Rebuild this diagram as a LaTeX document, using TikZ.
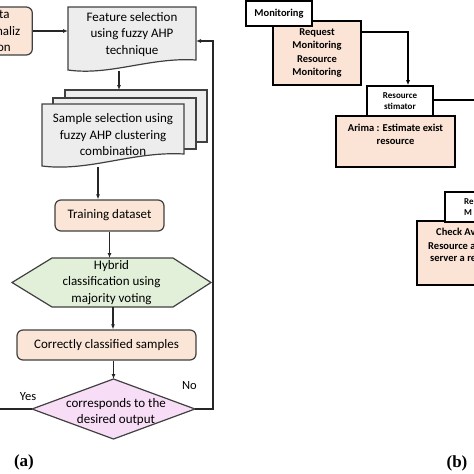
\documentclass[tikz,border=0pt]{standalone}
\usepackage{fontspec}
\setmainfont{Carlito}
\newfontfamily\serifb{Liberation Serif}
\usetikzlibrary{arrows.meta,calc}
\definecolor{peachL}{HTML}{FBE5D6}
\definecolor{peachR}{HTML}{FBE4D5}
\definecolor{grayD}{HTML}{EDEDED}
\definecolor{greenH}{HTML}{E2F0D9}
\definecolor{pinkD}{HTML}{F8DDF6}
\begin{document}
\begin{tikzpicture}[x=1pt,y=-1pt,
  arr/.style={-{Latex[length=5pt,width=4pt]}, line width=1.1pt, draw=black!85},
  ln/.style={line width=1.1pt, draw=black!85},
  arrR/.style={-{Latex[length=5pt,width=4pt]}, line width=1.4pt, draw=black},
  lnR/.style={line width=1.4pt, draw=black},
  lbox/.style={draw=black!75, line width=1.2pt},
  rbox/.style={draw=black, line width=1.6pt},
  txt/.style={inner sep=0pt, align=center, font=\fontsize{13}{16.5}\selectfont},
  rtxt/.style={inner sep=0pt, align=center, font=\bfseries\fontsize{10.5}{13.4}\selectfont},
  stxt/.style={inner sep=0pt, align=center, font=\bfseries\fontsize{9}{10.5}\selectfont},
  hole/.style={inner sep=0pt, outer sep=0pt},
  lbl/.style={inner sep=0pt, font=\fontsize{12.5}{12.5}\selectfont},
  capt/.style={inner sep=0pt, font=\serifb\bfseries\fontsize{17}{17}\selectfont}
]
\useasboundingbox (0,0) rectangle (474,474);

% ---------- (a) ----------
\node[lbox, fill=peachL, rounded corners=6pt, minimum width=70, minimum height=48, txt] (dn) at (-2.7,31) {Data\\normaliz\\ation};

\draw[lbox, fill=grayD] (68,7) -- (196,7) -- (196,60) .. controls (150,57) and (110,76) .. (68,70) -- cycle;
\node[txt] (fd) at (132,34.5) {Feature selection\\using fuzzy AHP\\technique};
\coordinate (fdl) at (68,31);
\coordinate (fdr) at (196,41);
\coordinate (fdb) at (119,71);

\draw[lbox, fill=grayD] (65,90) rectangle (207,142);
\draw[lbox, fill=grayD] (53,98) rectangle (196,149);
\draw[lbox, fill=grayD] (42,104) -- (184,104) -- (184,154) .. controls (133,151) and (89,172) .. (42,166) -- cycle;
\node[txt] (md) at (113,135) {Sample selection using\\fuzzy AHP clustering\\combination};
\coordinate (mdt) at (119,90);
\coordinate (mdb) at (98,167);

\node[lbox, fill=peachL, rounded corners=6pt, minimum width=109, minimum height=31, txt] (tr) at (109.5,215.5) {Training dataset};

\draw[lbox, fill=greenH] (12,282.5) -- (52,258) -- (173,258) -- (211,282.5) -- (173,307) -- (52,307) -- cycle;
\node[hole, minimum width=199, minimum height=49, txt] (hy) at (111.5,282.5) {Hybrid\\classification using\\majority voting};

\node[lbox, fill=peachL, rounded corners=6pt, minimum width=179, minimum height=30, txt] (cc) at (106.5,345) {Correctly classified samples};

\draw[lbox, fill=pinkD] (113.5,379) -- (195,409) -- (113.5,439) -- (32,409) -- cycle;
\node[hole, minimum width=163, minimum height=60] (dm) at (113.5,409) {};
\node[txt] (dmt) at (116,412) {corresponds to the\\desired output};

\coordinate (fb) at (213,41);
\coordinate (yesend) at (-2,409);

\draw[arr] (dn.east) -- (fdl);
\draw[arr] (fdb) -- (mdt);
\draw[arr] (mdb) -- (mdb |- tr.north);
\draw[arr] (tr.south) -- (tr.south |- hy.north);
\draw[arr] ([xshift=1.5pt]hy.south) -- ([xshift=1.5pt]hy.south |- cc.north);
\draw[arr] (cc.south -| dm.north) -- (dm.north);
\draw[arr] (dm.east) -| (fb) -- (fdr);
\draw[ln] (dm.west) -- (yesend);

\node[lbl] (yes) at (28,397) {Yes};
\node[lbl] (no) at (189.5,386) {No};
\node[capt] (la) at (24,462) {(a)};

% ---------- (b) ----------
\node[rbox, fill=peachR, minimum width=88, minimum height=64, rtxt] (rm) at (317,53) {Request\\Monitoring\\Resource\\Monitoring};
\node[rbox, fill=white, minimum width=66, minimum height=25, rtxt] (mon) at (279,13.5) {Monitoring};

\node[rbox, fill=peachR, minimum width=119, minimum height=51] (ar) at (395.5,141.5) {};
\node[rtxt] (art) at (395.5,134.5) {Arima : Estimate exist\\resource};
\node[rbox, fill=white, minimum width=66, minimum height=30, stxt] (rs) at (400,101) {Resource\\stimator};

\coordinate (rmo) at (361,32);
\coordinate (rsout) at (476,100);
\draw[arrR] (rmo) -| ($(rs.north)+(8,0)$);
\draw[lnR] (rs.east |- rsout) -- (rsout);

\node[rbox, fill=peachR, minimum width=70, minimum height=64] (ca) at (452,253) {};
\node[rbox, fill=white, minimum width=40, minimum height=30] (rmb) at (465,207) {};
\node[stxt, anchor=west] (re1) at (464,202) {Re};
\node[stxt, anchor=west] (re2) at (464,213) {M};
\node[rtxt, anchor=west] (ck1) at (436,232) {Check Av};
\node[rtxt, anchor=west] (ck2) at (428,246) {Resource a};
\node[rtxt, anchor=west] (ck3) at (430,259) {server a re};

\node[capt] (lb) at (457,463) {(b)};
\end{tikzpicture}
\end{document}
